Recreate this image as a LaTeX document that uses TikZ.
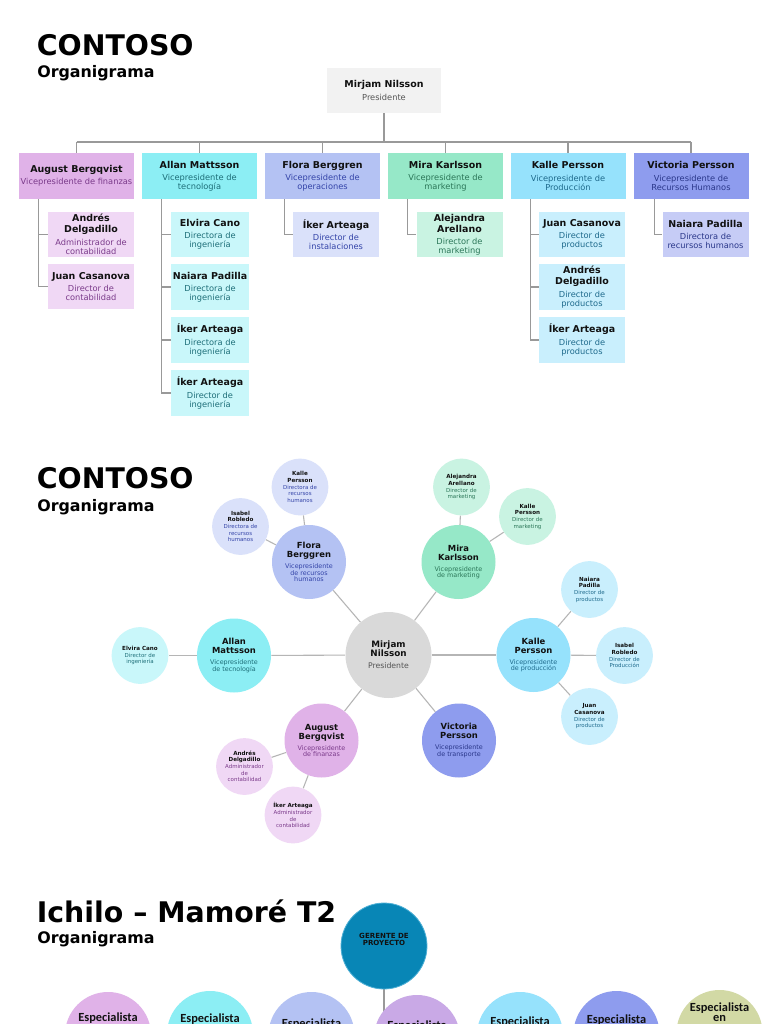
\documentclass[tikz,border=0pt]{standalone}
\usepackage{fontspec}
\setmainfont{DejaVu Sans}
\newfontfamily\carlfont{Carlito}
\definecolor{finF}{HTML}{E0B2E8}
\definecolor{finC}{HTML}{F0D8F5}
\definecolor{finS}{HTML}{7A3A8A}
\definecolor{tecF}{HTML}{8CEEF4}
\definecolor{tecC}{HTML}{C9F7FA}
\definecolor{tecS}{HTML}{1D6E78}
\definecolor{opeF}{HTML}{B4C2F3}
\definecolor{opeC}{HTML}{DAE1FA}
\definecolor{opeS}{HTML}{3444A8}
\definecolor{mktF}{HTML}{96E8C8}
\definecolor{mktC}{HTML}{C9F3E2}
\definecolor{mktS}{HTML}{2B7658}
\definecolor{proF}{HTML}{96E2FC}
\definecolor{proC}{HTML}{C9EFFD}
\definecolor{proS}{HTML}{1E6A8C}
\definecolor{rhF}{HTML}{8E9CEE}
\definecolor{rhC}{HTML}{C6CCF6}
\definecolor{rhS}{HTML}{2A378A}
\definecolor{presF}{HTML}{F2F2F2}
\definecolor{presC}{HTML}{D9D9D9}
\definecolor{presS}{HTML}{555555}
\definecolor{treeL}{HTML}{999999}
\definecolor{circL}{HTML}{B5B5B5}
\definecolor{gerF}{HTML}{0886B6}
\definecolor{gerD}{HTML}{4FB0D6}
\definecolor{lavF}{HTML}{C9A9E6}
\definecolor{oliF}{HTML}{D2D9A5}
\definecolor{nameK}{HTML}{111111}
\pgfdeclarelayer{bg}
\pgfdeclarelayer{lines}
\pgfsetlayers{bg,lines,main}
\newcommand\tightls{\lineskiplimit=-5pt\relax}
\newcommand\boxname[1]{{\fontsize{7.1}{8}\selectfont\bfseries\color{nameK}#1}}
\newcommand\vpcname[1]{{\fontsize{6.3}{7}\selectfont\bfseries\color{nameK}#1}}
\newcommand\chcname[1]{{\fontsize{4.2}{5}\selectfont\bfseries\color{nameK}#1}}
\newcommand\prcname[1]{{\fontsize{6.6}{7.5}\selectfont\bfseries\color{nameK}#1}}
\begin{document}
\begin{tikzpicture}[x=0.75pt,y=-0.75pt,
  title/.style={anchor=base west, inner sep=0pt, font=\fontsize{21.3}{24}\selectfont\bfseries},
  subtitle/.style={anchor=base west, inner sep=0pt, font=\fontsize{11.9}{14}\selectfont\bfseries},
  tline/.style={draw=treeL, line width=0.8pt},
  cline/.style={draw=circL, line width=0.8pt},
  vpbox/.style={rectangle, inner sep=0pt, minimum width=86.25pt, minimum height=34.5pt, align=center, font={\fontsize{6.2}{6.75}\selectfont\tightls}},
  presbox/.style={vpbox, minimum width=85.5pt, minimum height=33.75pt, fill=presF, text=presS},
  chbox/.style={vpbox, minimum width=64.5pt, minimum height=34pt},
  chboxn/.style={vpbox, minimum width=58.5pt, minimum height=34pt},
  prc/.style={circle, inner sep=0pt, minimum size=64.5pt, align=center, fill=presC, text=presS, font={\fontsize{5.8}{6.5}\selectfont\tightls}},
  vpc/.style={circle, inner sep=0pt, minimum size=55.5pt, align=center, font={\fontsize{4.8}{5.1}\selectfont\tightls}},
  chc/.style={circle, inner sep=0pt, minimum size=42.5pt, align=center, font={\fontsize{4.1}{4.9}\selectfont\tightls}},
  espc/.style={circle, inner sep=0pt, minimum size=64.5pt},
  esptext/.style={anchor=base, inner sep=0pt, font=\carlfont\bfseries\fontsize{9.3}{11}\selectfont, text=nameK}
]
\useasboundingbox (0,0) rectangle (768,1024);
\clip (0,0) rectangle (768,1024);
\begin{pgfonlayer}{bg}
\fill[white] (0,0) rectangle (768,1024);
\end{pgfonlayer}

% ---------------- Section 1 ----------------
\node[title] (tA) at (36.5,56) {CONTOSO};
\node[subtitle] (sA) at (37,78) {Organigrama};

\node[presbox] (bpres) at (384,90.5) {\boxname{Mirjam Nilsson}\\[2.8pt]Presidente};

\node[vpbox, fill=finF, text=finS] (baug) at (76.5,176) {\boxname{August Bergqvist}\\[2.6pt]Vicepresidente de finanzas};
\node[vpbox, fill=tecF, text=tecS] (ball) at (199.5,176) {\boxname{Allan Mattsson}\\[2.6pt]Vicepresidente de\\tecnología};
\node[vpbox, fill=opeF, text=opeS] (bflo) at (322.5,176) {\boxname{Flora Berggren}\\[2.6pt]Vicepresidente de\\operaciones};
\node[vpbox, fill=mktF, text=mktS] (bmir) at (445.5,176) {\boxname{Mira Karlsson}\\[2.6pt]Vicepresidente de\\marketing};
\node[vpbox, fill=proF, text=proS] (bkal) at (568,176) {\boxname{Kalle Persson}\\[2.6pt]Vicepresidente de\\Producción};
\node[vpbox, fill=rhF, text=rhS] (bvic) at (691,176) {\boxname{Victoria Persson}\\[2.6pt]Vicepresidente de\\Recursos Humanos};

\node[chbox, fill=finC, text=finS] (baugA) at (91,234.5) {\boxname{Andrés}\\[1.5pt]\boxname{Delgadillo}\\[2.6pt]Administrador de\\contabilidad};
\node[chbox, fill=finC, text=finS] (baugB) at (91,286.5) {\boxname{Juan Casanova}\\[2.6pt]Director de\\contabilidad};

\node[chboxn, fill=tecC, text=tecS] (ballA) at (210,234.5) {\boxname{Elvira Cano}\\[2.6pt]Directora de\\ingeniería};
\node[chboxn, fill=tecC, text=tecS] (ballB) at (210,287) {\boxname{Naiara Padilla}\\[2.6pt]Directora de\\ingeniería};
\node[chboxn, fill=tecC, text=tecS] (ballC) at (210,340) {\boxname{Íker Arteaga}\\[2.6pt]Directora de\\ingeniería};
\node[chboxn, fill=tecC, text=tecS] (ballD) at (210,393) {\boxname{Íker Arteaga}\\[2.6pt]Director de\\ingeniería};

\node[chbox, fill=opeC, text=opeS] (bfloA) at (336,234.5) {\boxname{Íker Arteaga}\\[2.6pt]Director de\\instalaciones};

\node[chbox, fill=mktC, text=mktS] (bmirA) at (459.5,234.5) {\boxname{Alejandra}\\[1.5pt]\boxname{Arellano}\\[2.6pt]Director de\\marketing};

\node[chbox, fill=proC, text=proS] (bkalA) at (582,234.5) {\boxname{Juan Casanova}\\[2.6pt]Director de\\productos};
\node[chbox, fill=proC, text=proS] (bkalB) at (582,287) {\boxname{Andrés}\\[1.5pt]\boxname{Delgadillo}\\[2.6pt]Director de\\productos};
\node[chbox, fill=proC, text=proS] (bkalC) at (582,340) {\boxname{Íker Arteaga}\\[2.6pt]Director de\\productos};

\node[chbox, fill=rhC, text=rhS] (bvicA) at (705.5,234.5) {\boxname{Naiara Padilla}\\[2.6pt]Directora de\\recursos humanos};

\coordinate (bus) at (384,142);
\begin{pgfonlayer}{lines}
\draw[tline] (bpres.south) -- (bpres.south |- bus);
\draw[tline] (baug.north |- bus) -- (bvic.north |- bus);
\foreach \v in {baug,ball,bflo,bmir,bkal,bvic}{
  \draw[tline] (\v.north) -- (\v.north |- bus);
}
\draw[tline] ([xshift=15pt]baug.south west) |- (baugA.west) ([xshift=15pt]baug.south west) |- (baugB.west);
\foreach \c in {ballA,ballB,ballC,ballD}{
  \draw[tline] ([xshift=15pt]ball.south west) |- (\c.west);
}
\draw[tline] ([xshift=14.5pt]bflo.south west) |- (bfloA.west);
\draw[tline] ([xshift=14.5pt]bmir.south west) |- (bmirA.west);
\foreach \c in {bkalA,bkalB,bkalC}{
  \draw[tline] ([xshift=15.5pt]bkal.south west) |- (\c.west);
}
\draw[tline] ([xshift=16pt]bvic.south west) |- (bvicA.west);
\end{pgfonlayer}

% ---------------- Section 2 ----------------
\node[title] (tB) at (36.5,488) {CONTOSO};
\node[subtitle] (sB) at (37,511) {Organigrama};

\node[prc] (cpres) at (388.5,655) {\prcname{Mirjam}\\[0.3pt]\prcname{Nilsson}\\[2.5pt]Presidente};

\node[vpc, fill=opeF, text=opeS] (cflo) at (309,562) {\vpcname{Flora}\\[1.6pt]\vpcname{Berggren}\\[3.1pt]Vicepresidente\\de recursos\\humanos};
\node[chc, fill=opeC, text=opeS] (cfloA) at (300,487) {\chcname{Kalle}\\\chcname{Persson}\\[0.3pt]Directora de\\recursos\\humanos};
\node[chc, fill=opeC, text=opeS] (cfloB) at (240.5,526.5) {\chcname{Isabel}\\\chcname{Robledo}\\[0.3pt]Directora de\\recursos\\humanos};

\node[vpc, fill=mktF, text=mktS] (cmir) at (458.5,562) {\vpcname{Mira}\\[1.6pt]\vpcname{Karlsson}\\[3.1pt]Vicepresidente\\de marketing};
\node[chc, fill=mktC, text=mktS] (cmirA) at (461.5,487) {\chcname{Alejandra}\\\chcname{Arellano}\\[0.3pt]Director de\\marketing};
\node[chc, fill=mktC, text=mktS] (cmirB) at (527.5,516.5) {\chcname{Kalle}\\\chcname{Persson}\\[0.3pt]Director de\\marketing};

\node[vpc, fill=tecF, text=tecS] (call) at (234,655.5) {\vpcname{Allan}\\[1.6pt]\vpcname{Mattsson}\\[3.1pt]Vicepresidente\\de tecnología};
\node[chc, fill=tecC, text=tecS] (callA) at (140,655.5) {\chcname{Elvira Cano}\\[0.3pt]Director de\\ingeniería};

\node[vpc, fill=proF, text=proS] (ckal) at (533.5,655) {\vpcname{Kalle}\\[1.6pt]\vpcname{Persson}\\[3.1pt]Vicepresidente\\de producción};
\node[chc, fill=proC, text=proS] (ckalA) at (589.5,589.5) {\chcname{Naiara}\\\chcname{Padilla}\\[0.3pt]Director de\\productos};
\node[chc, fill=proC, text=proS] (ckalB) at (624.5,655.5) {\chcname{Isabel}\\\chcname{Robledo}\\[0.3pt]Director de\\Producción};
\node[chc, fill=proC, text=proS] (ckalC) at (589.5,716.5) {\chcname{Juan}\\\chcname{Casanova}\\[0.3pt]Director de\\productos};

\node[vpc, fill=finF, text=finS] (caug) at (321.5,740.5) {\vpcname{August}\\[1.6pt]\vpcname{Bergqvist}\\[3.1pt]Vicepresidente\\de finanzas};
\node[chc, fill=finC, text=finS] (caugA) at (244.5,766.5) {\chcname{Andrés}\\\chcname{Delgadillo}\\[0.3pt]Administrador\\de\\contabilidad};
\node[chc, fill=finC, text=finS] (caugB) at (293,815) {\chcname{Íker Arteaga}\\[0.3pt]Administrador\\de\\contabilidad};

\node[vpc, fill=rhF, text=rhS] (cvic) at (459,740.5) {\vpcname{Victoria}\\[1.6pt]\vpcname{Persson}\\[3.1pt]Vicepresidente\\de transporte};

\begin{pgfonlayer}{lines}
\foreach \v in {cflo,cmir,call,ckal,caug,cvic}{
  \draw[cline] (cpres) -- (\v);
}
\draw[cline] (cflo) -- (cfloA);
\draw[cline] (cflo) -- (cfloB);
\draw[cline] (cmir) -- (cmirA);
\draw[cline] (cmir) -- (cmirB);
\draw[cline] (call) -- (callA);
\draw[cline] (ckal) -- (ckalA);
\draw[cline] (ckal) -- (ckalB);
\draw[cline] (ckal) -- (ckalC);
\draw[cline] (caug) -- (caugA);
\draw[cline] (caug) -- (caugB);
\end{pgfonlayer}

% ---------------- Section 3 ----------------
\node[title] (tC) at (36.5,922) {Ichilo – Mamoré T2};
\node[subtitle] (sC) at (37,943) {Organigrama};

\node[espc, fill=gerF, draw=gerD, line width=0.6pt] (ger) at (384,946) {};
\node[align=center, inner sep=0pt, text=nameK, font={\fontsize{5.3}{5.4}\selectfont\bfseries\tightls}] (gerT) at (384,939.5) {GERENTE DE\\PROYECTO};

\node[espc, fill=finF] (e1) at (108,1035) {};
\node[espc, fill=tecF] (e2) at (210,1034) {};
\node[espc, fill=opeF] (e3) at (311.5,1035) {};
\node[espc, fill=lavF] (e4) at (417,1038) {};
\node[espc, fill=proF] (e5) at (520,1035) {};
\node[espc, fill=rhF] (e6) at (616.5,1034) {};
\node[espc, fill=oliF] (e7) at (719.5,1033) {};

\node[esptext] (et1) at (108,1021) {Especialista};
\node[esptext] (et2) at (210,1022) {Especialista};
\node[esptext] (et3) at (311.5,1027) {Especialista};
\node[esptext] (et4) at (417,1029) {Especialista};
\node[esptext] (et5) at (520,1025.5) {Especialista};
\node[esptext] (et6) at (616.5,1023) {Especialista};
\node[inner sep=0pt, align=center, anchor=north, text=nameK, font={\carlfont\bfseries\fontsize{9.3}{7.2}\selectfont\tightls}] (et7) at (719.5,1003) {Especialista\\en};

\begin{pgfonlayer}{lines}
\draw[tline] (ger.south) -- (ger.south |- e4.center);
\end{pgfonlayer}
\end{tikzpicture}
\end{document}
